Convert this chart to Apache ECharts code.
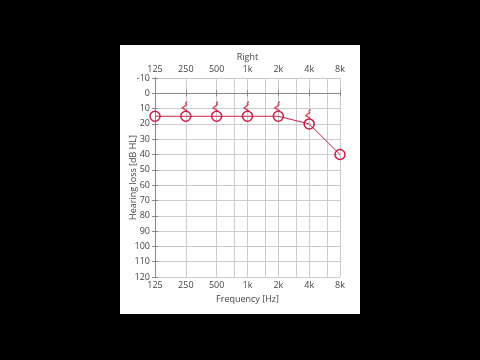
<!DOCTYPE html>
<html><head><meta charset="utf-8">
<script src="https://cdn.jsdelivr.net/npm/echarts@6/dist/echarts.min.js"></script>
<style>html,body{margin:0;padding:0;background:#000;}#c{width:480px;height:360px;}</style>
</head><body><div id="c"></div>
<script>
const frequencies = [125, 250, 500, 1000, 2000, 4000, 8000];
const freqLabels = ['125', '250', '500', '1k', '2k', '4k', '8k'];
const airRight = [15, 15, 15, 15, 15, 20, 40];
const boneFreqs = [250, 500, 1000, 2000, 4000];
const boneRight = [10, 10, 10, 10, 15];
const minorFreqs = [750, 1500, 3000, 6000];
const yMin = -10, yMax = 120, yStep = 10;

// position along the frequency axis in octaves above the lowest frequency
const oct = f => Math.log2(f / frequencies[0]);

const red = '#cc1f47';
const font = 'Open Sans, DejaVu Sans, sans-serif';
const chart = echarts.init(document.getElementById('c'));
const boneSymbol = 'path://M5,0 Q2,1 4,3 L0,6.5 L5,10';

function fmtFreq(v) {
  const r = Math.round(v);
  if (Math.abs(v - r) > 0.01) return '';
  return freqLabels[r] || '';
}

const xCommon = {
  type: 'value', min: 0, max: frequencies.length - 1, interval: 1,
  axisLine: {show: true, lineStyle: {color: '#888', width: 1}},
  axisTick: {show: true, length: 3, lineStyle: {color: '#888'}},
  splitLine: {show: true, lineStyle: {color: '#ccc', width: 1}},
  axisLabel: {color: '#444', fontSize: 9, fontFamily: font, margin: 4, formatter: fmtFreq},
  nameTextStyle: {color: '#444', fontSize: 9, fontFamily: font}
};

chart.setOption({
  backgroundColor: '#000',
  animation: false,
  graphic: [{type: 'rect', shape: {x: 120, y: 45, width: 240, height: 269}, style: {fill: '#fff'}, z: -10}],
  grid: {left: 155, right: 140, top: 78, bottom: 83},
  xAxis: [
    Object.assign({}, xCommon, {position: 'bottom', name: 'Frequency [Hz]', nameLocation: 'middle', nameGap: 16}),
    Object.assign({}, xCommon, {position: 'top', name: 'Right', nameLocation: 'middle', nameGap: 16,
      nameMoveOverlap: false, splitLine: {show: false}})
  ],
  yAxis: [
    {type: 'value', inverse: true, min: yMin, max: yMax, interval: yStep,
     axisLine: {show: true, lineStyle: {color: '#888'}},
     axisTick: {show: true, length: 3, lineStyle: {color: '#888'}},
     splitLine: {show: true, lineStyle: {color: '#ccc'}},
     axisLabel: {color: '#444', fontSize: 9, fontFamily: font, margin: 5},
     name: 'Hearing loss [dB HL]', nameLocation: 'middle', nameGap: 17, nameMoveOverlap: false,
     nameTextStyle: {color: '#444', fontSize: 9, fontFamily: font}},
    {type: 'value', inverse: true, min: yMin, max: yMax, interval: yStep, position: 'right',
     axisLine: {show: true, lineStyle: {color: '#888'}},
     axisTick: {show: true, length: 3, lineStyle: {color: '#888'}},
     splitLine: {show: false}, axisLabel: {show: false}}
  ],
  series: [
    {type: 'line', xAxisIndex: 0, yAxisIndex: 0,
     data: [], silent: true,
     markLine: {silent: true, symbol: 'none', label: {show: false},
       data: minorFreqs.map(f => ({xAxis: oct(f), lineStyle: {color: '#ccc', width: 1, type: 'solid'}}))
         .concat([{yAxis: 0, lineStyle: {color: '#888', width: 1, type: 'solid'}}])}},
    {type: 'line', xAxisIndex: 0, yAxisIndex: 0,
     data: frequencies.map((f, i) => [oct(f), airRight[i]]),
     symbol: 'circle', symbolSize: 10, showAllSymbol: true,
     lineStyle: {color: red, width: 1},
     itemStyle: {color: 'rgba(255,255,255,0)', borderColor: red, borderWidth: 1.5},
     z: 5},
    {type: 'scatter', xAxisIndex: 0, yAxisIndex: 0,
     data: boneFreqs.map((f, i) => [oct(f), boneRight[i]]),
     symbol: boneSymbol, symbolSize: [5, 9], symbolOffset: [-1, -2], symbolKeepAspect: false,
     itemStyle: {color: 'rgba(0,0,0,0)', borderColor: red, borderWidth: 1.2},
     z: 6}
  ]
});
</script></body></html>
